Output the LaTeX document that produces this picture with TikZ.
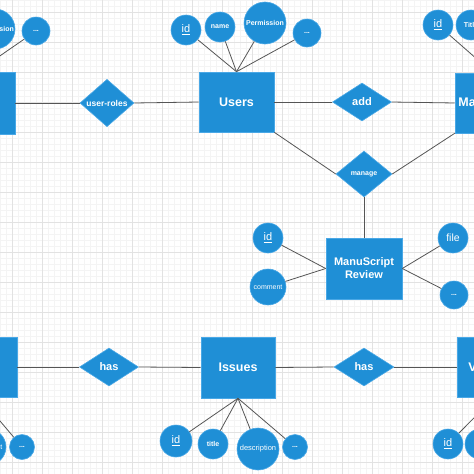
\documentclass[tikz,border=0pt]{standalone}
\usepackage{fontspec}
\setmainfont{Liberation Sans}
\usetikzlibrary{shapes.geometric}
\definecolor{erblue}{HTML}{1F8FD6}
\definecolor{erborder}{HTML}{4AA8E6}
\definecolor{erline}{HTML}{555555}
\definecolor{gridminor}{HTML}{F4F4F4}
\definecolor{gridmajor}{HTML}{E2E2E2}
\tikzset{
  entity/.style={rectangle, fill=erblue, draw=erborder, line width=0.6pt, text=white,
    font=\bfseries\fontsize{12.5}{14}\selectfont, align=center, inner sep=0pt},
  rel/.style={diamond, fill=erblue, draw=erborder, line width=0.6pt, text=white,
    font=\bfseries\fontsize{11}{13}\selectfont, inner sep=0pt},
  attr/.style={circle, fill=erblue, draw=erborder, line width=0.6pt, text=white,
    font=\bfseries\fontsize{7}{8}\selectfont, inner sep=0pt, minimum size=#1},
  attr/.default=30pt,
  conn/.style={draw=erline, line width=0.8pt},
}
\newcommand{\keyattr}[1]{\fontsize{11}{13}\selectfont\mdseries\underline{#1}}
\begin{document}
\begin{tikzpicture}[x=1pt,y=-1pt]
\useasboundingbox (0,0) rectangle (474,474);
\clip (0,0) rectangle (474,474);
\fill[white] (0,0) rectangle (474,474);
% grid
\foreach \i in {0,...,80} {
  \draw[gridminor, line width=0.4pt] ({0.5+6*\i},0) -- ({0.5+6*\i},474);
  \draw[gridminor, line width=0.4pt] (0,{0.5+6*\i}) -- (474,{0.5+6*\i});
}
\foreach \i in {0,...,16} {
  \draw[gridmajor, line width=0.5pt] ({12.5+30*\i},0) -- ({12.5+30*\i},474);
  \draw[gridmajor, line width=0.5pt] (0,{12.3+30*\i}) -- (474,{12.3+30*\i});
}

% ---------- top row ----------
\node[entity, minimum width=76pt, minimum height=62pt] (le) at (-23,103) {};
\node[attr=40pt] (leperm) at (-5,29) {Permission};
\node[attr=28pt] (ledots) at (36,31) {...};

\node[rel, minimum width=54pt, minimum height=46pt, font=\bfseries\fontsize{8.5}{10}\selectfont] (userroles) at (107,103) {user-roles};

\node[entity, minimum width=75pt, minimum height=60pt] (users) at (236.5,102) {Users};
\node[attr=30pt] (uid) at (186,30) {\keyattr{id}};
\node[attr=30pt] (uname) at (220,27) {name};
\node[attr=42pt] (uperm) at (265,23) {Permission};
\node[attr=28pt] (udots) at (307,33) {...};

\node[rel, minimum width=59pt, minimum height=38pt] (add) at (362,102) {add};

\node[entity, minimum width=75pt, minimum height=60pt] (ms) at (492.5,103) {ManuScript};
\node[attr=30pt] (msid) at (438,25) {\keyattr{id}};
\node[attr=30pt] (mstitle) at (471,25) {Title};

\node[rel, minimum width=56pt, minimum height=46pt, font=\bfseries\fontsize{7}{8}\selectfont] (manage) at (364,174) {manage};

\node[entity, minimum width=76pt, minimum height=61pt, font=\bfseries\fontsize{11}{13}\selectfont] (mr) at (364,268.5) {ManuScript\\Review};
\node[attr=30pt] (mrid) at (268,238) {\keyattr{id}};
\node[attr=36pt, font=\mdseries\fontsize{7}{8}\selectfont] (mrcomment) at (268,287) {comment};
\node[attr=30pt, font=\mdseries\fontsize{10.5}{12}\selectfont] (mrfile) at (453,238) {file};
\node[attr=28pt] (mrdots) at (454,295) {...};

% ---------- bottom row ----------
\node[entity, minimum width=74pt, minimum height=60pt] (le2) at (-20,367) {};
\node[attr=36pt, font=\mdseries\fontsize{7}{8}\selectfont] (le2comment) at (-12,447) {comment};
\node[attr=25pt] (le2dots) at (22,447) {...};

\node[rel, minimum width=59pt, minimum height=38pt] (has1) at (109,367) {has};

\node[entity, minimum width=74pt, minimum height=61pt] (issues) at (238,367.5) {Issues};
\node[attr=32pt] (iid) at (176,441) {\keyattr{id}};
\node[attr=30pt] (ititle) at (213,444) {title};
\node[attr=42pt, font=\mdseries\fontsize{7.5}{8}\selectfont] (idesc) at (258,449) {description};
\node[attr=25pt] (idots) at (295,447) {...};

\node[rel, minimum width=60pt, minimum height=38pt] (has2) at (364,367) {has};

\node[entity, minimum width=75pt, minimum height=60pt] (ver) at (494.5,367) {Versions};
\node[attr=30pt] (vid) at (448,444) {\keyattr{id}};
\node[attr=30pt] (vother) at (480,444) {};

% ---------- connectors ----------
\draw[conn] (le.north) -- (ledots);
\draw[conn] (le.east) -- (userroles.west);
\draw[conn] (userroles.east) -- (users.west);
\draw[conn] (users.east) -- (add.west);
\draw[conn] (add.east) -- (ms.west);
\foreach \a in {uid,uname,uperm,udots} \draw[conn] (users.north) -- (\a);
\draw[conn] (ms.north) -- (msid);
\draw[conn] (users.south east) -- (manage.west);
\draw[conn] (ms.south west) -- (manage.east);
\draw[conn] (manage.south) -- (mr.north);
\draw[conn] (mr.west) -- (mrid);
\draw[conn] (mr.west) -- (mrcomment);
\draw[conn] (mr.east) -- (mrfile);
\draw[conn] (mr.east) -- (mrdots);

\draw[conn] (le2.east) -- (has1.west);
\draw[conn] (has1.east) -- (issues.west);
\draw[conn] (issues.east) -- (has2.west);
\draw[conn] (has2.east) -- (ver.west);
\draw[conn] (le2.south) -- (le2comment);
\draw[conn] (le2.south) -- (le2dots);
\foreach \a in {iid,ititle,idesc,idots} \draw[conn] (issues.south) -- (\a);
\draw[conn] (ver.south) -- (vid);
\end{tikzpicture}
\end{document}
